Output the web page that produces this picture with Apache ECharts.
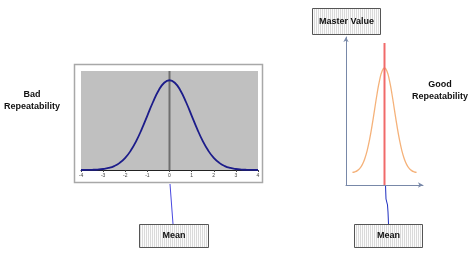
<!DOCTYPE html>
<html><head><meta charset="utf-8">
<script src="https://cdn.jsdelivr.net/npm/echarts@6/dist/echarts.min.js"></script>
<style>html,body{margin:0;padding:0;background:#fff}#c{width:474px;height:253px}</style>
</head><body><div id="c"></div>
<script>
// Left chart: wide (bad repeatability) distribution
const leftX = [-4,-3.75,-3.5,-3.25,-3,-2.75,-2.5,-2.25,-2,-1.75,-1.5,-1.25,-1,-0.75,-0.5,-0.25,0,0.25,0.5,0.75,1,1.25,1.5,1.75,2,2.25,2.5,2.75,3,3.25,3.5,3.75,4];
const leftY = [0.0001,0.0004,0.0009,0.002,0.0044,0.0091,0.0175,0.0317,0.054,0.0863,0.1295,0.1826,0.242,0.3011,0.3521,0.3867,0.3989,0.3867,0.3521,0.3011,0.242,0.1826,0.1295,0.0863,0.054,0.0317,0.0175,0.0091,0.0044,0.002,0.0009,0.0004,0.0001];
const leftTicks = [-4,-3,-2,-1,0,1,2,3,4];
const leftMeanLine = [[0,0],[0,0.44]];
// Right chart: narrow (good repeatability) distribution
const rightX = [-3.25,-3,-2.75,-2.5,-2.25,-2,-1.75,-1.5,-1.25,-1,-0.75,-0.5,-0.25,0,0.25,0.5,0.75,1,1.25,1.5,1.75,2,2.25,2.5,2.75,3,3.25];
const rightY = [0.002,0.0044,0.0091,0.0175,0.0317,0.054,0.0863,0.1295,0.1826,0.242,0.3011,0.3521,0.3867,0.3989,0.3867,0.3521,0.3011,0.242,0.1826,0.1295,0.0863,0.054,0.0317,0.0175,0.0091,0.0044,0.002];
const masterLine = [[0,-0.0456],[0,0.494]];
const labels = {bad:['Bad','Repeatability'], good:['Good','Repeatability'], master:'Master Value', mean:'Mean'};

const pc = document.createElement('canvas'); pc.width = 2; pc.height = 1;
const pctx = pc.getContext('2d');
pctx.fillStyle = '#fcfcfc'; pctx.fillRect(0,0,2,1);
pctx.fillStyle = '#dadada'; pctx.fillRect(0,0,1,1);
const hatch = {image: pc, repeat: 'repeat'};

function box(x,y,w,h,txt){
  return {type:'group', children:[
    {type:'rect', shape:{x:x,y:y,width:w,height:h}, style:{fill:hatch, stroke:'#555', lineWidth:1}, z:1},
    {type:'text', x:x+w/2, y:y+h/2, style:{text:txt, font:'bold 9px "Liberation Sans", Arial', fill:'#111', textAlign:'center', textVerticalAlign:'middle'}, z:2}
  ]};
}

const chart = echarts.init(document.getElementById('c'), null, {renderer:'canvas'});
chart.setOption({
  animation:false,
  backgroundColor:'#fff',
  grid:[
    {left:81, right:216, top:71, bottom:83, show:true, backgroundColor:'#c0c0c0', borderWidth:0},
    {left:346, right:51, top:37, bottom:68}
  ],
  xAxis:[
    {gridIndex:0, type:'value', min:-4, max:4, interval:1,
     axisLine:{onZero:false, lineStyle:{color:'#222', width:1}},
     axisTick:{show:true, length:2, lineStyle:{color:'#444'}},
     axisLabel:{fontSize:5, color:'#444', margin:3, fontFamily:'Liberation Sans'},
     splitLine:{show:false}},
    {gridIndex:1, type:'value', min:-3.9, max:3.9,
     axisLine:{onZero:false, symbol:['none','arrow'], symbolSize:[4,5], lineStyle:{color:'#7888a8', width:1}},
     axisTick:{show:false}, axisLabel:{show:false}, splitLine:{show:false}}
  ],
  yAxis:[
    {gridIndex:0, type:'value', min:0, max:0.44, show:false},
    {gridIndex:1, type:'value', min:-0.0456, max:0.5167,
     axisLine:{show:true, onZero:false, symbol:['none','arrow'], symbolSize:[4,5], lineStyle:{color:'#7888a8', width:1}},
     axisTick:{show:false}, axisLabel:{show:false}, splitLine:{show:false}}
  ],
  series:[
    {type:'line', xAxisIndex:0, yAxisIndex:0, data:leftMeanLine, symbol:'none', lineStyle:{color:'#6e6e6e', width:2}, z:2},
    {type:'line', xAxisIndex:0, yAxisIndex:0, data:leftX.map((x,i)=>[x,leftY[i]]), smooth:true, symbol:'none', lineStyle:{color:'#1c1c8a', width:1.8}, z:3},
    {type:'line', xAxisIndex:1, yAxisIndex:1, data:rightX.map((x,i)=>[x,rightY[i]]), smooth:true, symbol:'none', lineStyle:{color:'#f5b27a', width:1.3}, z:2},
    {type:'line', xAxisIndex:1, yAxisIndex:1, data:masterLine, symbol:'none', lineStyle:{color:'#f06a6a', width:2}, z:3}
  ],
  graphic:[
    {type:'rect', shape:{x:74.5,y:64.5,width:188,height:118}, style:{fill:'none', stroke:'#a8a8a8', lineWidth:1.5}, z:-1, silent:true},
    {type:'text', x:32, y:95, style:{text:labels.bad[0], font:'bold 9px "Liberation Sans", Arial', fill:'#111', textAlign:'center', textVerticalAlign:'middle'}},
    {type:'text', x:32, y:107, style:{text:labels.bad[1], font:'bold 9px "Liberation Sans", Arial', fill:'#111', textAlign:'center', textVerticalAlign:'middle'}},
    {type:'text', x:440, y:85, style:{text:labels.good[0], font:'bold 9px "Liberation Sans", Arial', fill:'#111', textAlign:'center', textVerticalAlign:'middle'}},
    {type:'text', x:440, y:97, style:{text:labels.good[1], font:'bold 9px "Liberation Sans", Arial', fill:'#111', textAlign:'center', textVerticalAlign:'middle'}},
    box(312.5,8.5,68,26,labels.master),
    box(139.5,224.5,69,23,labels.mean),
    box(354.5,224.5,68,23,labels.mean),
    {type:'polyline', shape:{points:[[170,184],[173,224]]}, style:{stroke:'#4848e0', lineWidth:1, fill:'none'}},
    {type:'polyline', shape:{points:[[385.5,185],[386,199],[387.5,205],[388,212],[388.5,224]]}, style:{stroke:'#1e2ec0', lineWidth:1, fill:'none'}}
  ]
});
</script></body></html>
